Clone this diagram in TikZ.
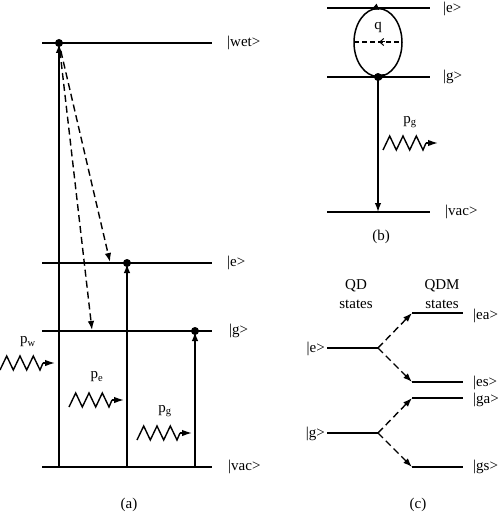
\documentclass[tikz,border=0pt]{standalone}
\usepackage{fontspec}
\setmainfont{Liberation Serif}
\usetikzlibrary{arrows.meta,shapes.geometric}
\begin{document}
\begin{tikzpicture}[x=1pt,y=-1pt,
  lvl/.style={line width=1.6pt},
  trans/.style={line width=1.4pt,-{Latex[length=9pt,width=6.5pt]}},
  dsh/.style={line width=1.4pt,dash pattern=on 7pt off 4pt,-{Latex[length=9pt,width=6.5pt]}},
  dotm/.style={circle,fill,inner sep=0pt,minimum size=8pt},
  lbl/.style={inner sep=0pt,font=\fontsize{15}{17}\selectfont},
  txt/.style={inner sep=0pt,font=\fontsize{15}{19}\selectfont,align=center},
  headonly/.style={line width=1.2pt,-{Latex[length=8pt,width=7pt]}},
  wave/.pic={
    \draw[line width=1.4pt,line join=miter] (0,7) -- (6.7,-7) -- (13.3,7) -- (20,-7) -- (26.7,7) -- (33.3,-7) -- (40,7) -- (43,0);
    \draw[line width=1.4pt,-{Latex[length=10pt,width=6.5pt]}] (43,0) -- (55,0);
  }]
\useasboundingbox (0,0) rectangle (500,519);
\fill[white] (0,0) rectangle (500,519);

% ---------- panel (a) ----------
\coordinate (wL) at (42,43);  \coordinate (wR) at (212,43);
\coordinate (eL) at (42,263); \coordinate (eR) at (212,263);
\coordinate (gL) at (42,331); \coordinate (gR) at (212,331);
\coordinate (vL) at (42,467); \coordinate (vR) at (212,467);
\draw[lvl] (wL) -- (wR);
\draw[lvl] (eL) -- (eR);
\draw[lvl] (gL) -- (gR);
\draw[lvl] (vL) -- (vR);
\node[lbl,anchor=west] (lwet) at (227,43) {|wet>};
\node[lbl,anchor=west] (lea) at (227,263) {|e>};
\node[lbl,anchor=west] (lga) at (229,331) {|g>};
\node[lbl,anchor=west] (lvac) at (228,467) {|vac>};

\coordinate (b1) at (59,467);  \coordinate (t1) at (59,44);
\coordinate (b2) at (127,467); \coordinate (t2) at (127,264);
\coordinate (b3) at (195,467); \coordinate (t3) at (195,332);
\draw[trans] (b1) -- (t1);
\draw[trans] (b2) -- (t2);
\draw[trans] (b3) -- (t3);
\node[dotm] (d1) at (59,43) {};
\node[dotm] (d2) at (127,263) {};
\node[dotm] (d3) at (195,331) {};

\coordinate (ae) at (110,262);
\coordinate (ag) at (92,330);
\draw[dsh,shorten <=4pt] (d1) -- (ae);
\draw[dsh,shorten <=4pt] (d1) -- (ag);

\pic (w1) at (0,363) {wave};
\pic (w2) at (69,400) {wave};
\pic (w3) at (137,433) {wave};
\node[txt] (pw) at (28,342) {p\textsubscript{w}};
\node[txt] (pe) at (97,377) {p\textsubscript{e}};
\node[txt] (pga) at (165,411) {p\textsubscript{g}};
\node[txt] (capa) at (129,505) {(a)};

% ---------- panel (b) ----------
\coordinate (beL) at (327,8);   \coordinate (beR) at (430,8);
\coordinate (bgL) at (327,77);  \coordinate (bgR) at (430,77);
\coordinate (bvL) at (327,212); \coordinate (bvR) at (430,212);
\draw[lvl] (beL) -- (beR);
\draw[lvl] (bgL) -- (bgR);
\draw[lvl] (bvL) -- (bvR);
\node[lbl,anchor=west] (lbe) at (443,9) {|e>};
\node[lbl,anchor=west] (lbg) at (443,77) {|g>};
\node[lbl,anchor=west] (lbv) at (445,212) {|vac>};

\node[draw,line width=1.5pt,ellipse,inner sep=0pt,minimum width=48pt,minimum height=68pt] (ell) at (378,42.5) {};
\coordinate (qL) at (354,42); \coordinate (qR) at (402,42);
\draw[line width=1.1pt,dash pattern=on 5pt off 3pt] (qL) -- (qR);
\coordinate (qa1) at (385,42); \coordinate (qa2) at (379,42);
\draw[line width=1pt,-{Straight Barb[length=4pt,width=7pt]}] (qa1) -- (qa2);
\node[txt] (q) at (378,27) {q};
\coordinate (ea1) at (376.5,7.3); \coordinate (ea2) at (370.5,9.8);
\draw[headonly] (ea1) -- (ea2);
\coordinate (ga1) at (380.5,76.6); \coordinate (ga2) at (386.5,73.8);
\draw[headonly] (ga1) -- (ga2);

\coordinate (bbot) at (378,212);
\draw[trans] (378,77) -- (bbot);
\node[dotm] (db) at (378,77) {};
\pic (w4) at (383,143) {wave};
\node[txt] (pgb) at (410,122) {p\textsubscript{g}};
\node[txt] (capb) at (381,237) {(b)};

% ---------- panel (c) ----------
\node[txt] (qd) at (356,294) {QD\\states};
\node[txt] (qdm) at (442,294) {QDM\\states};
\coordinate (ceL) at (327,348); \coordinate (ceR) at (378,348);
\coordinate (cgL) at (327,433); \coordinate (cgR) at (378,433);
\coordinate (eaL) at (412,313); \coordinate (eaR) at (463,313);
\coordinate (esL) at (412,382); \coordinate (esR) at (463,382);
\coordinate (gaL) at (412,398); \coordinate (gaR) at (463,398);
\coordinate (gsL) at (412,467); \coordinate (gsR) at (463,467);
\draw[lvl] (ceL) -- (ceR);
\draw[lvl] (cgL) -- (cgR);
\draw[lvl] (eaL) -- (eaR);
\draw[lvl] (esL) -- (esR);
\draw[lvl] (gaL) -- (gaR);
\draw[lvl] (gsL) -- (gsR);
\draw[dsh] (ceR) -- (eaL);
\draw[dsh] (ceR) -- (esL);
\draw[dsh] (cgR) -- (gaL);
\draw[dsh] (cgR) -- (gsL);
\node[lbl,anchor=east] (lce) at (325,349) {|e>};
\node[lbl,anchor=east] (lcg) at (325,434) {|g>};
\node[lbl,anchor=west] (lcea) at (473,316) {|ea>};
\node[lbl,anchor=west] (lces) at (473,382.5) {|es>};
\node[lbl,anchor=west] (lcga) at (473,399.5) {|ga>};
\node[lbl,anchor=west] (lcgs) at (473,467) {|gs>};
\node[txt] (capc) at (418,505) {(c)};
\end{tikzpicture}
\end{document}
